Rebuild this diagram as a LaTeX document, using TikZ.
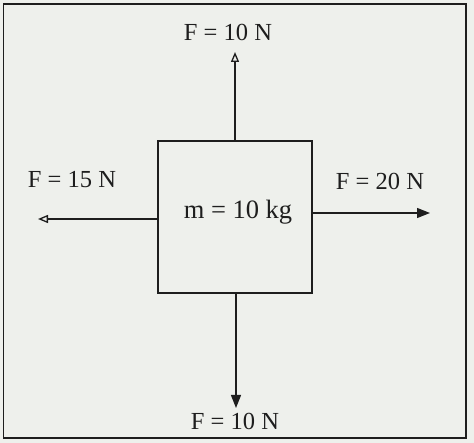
\documentclass[tikz,border=0pt]{standalone}
\usepackage{fontspec}
\setmainfont{Liberation Serif}
\usetikzlibrary{arrows.meta}
\definecolor{paper}{HTML}{EEF0EC}
\definecolor{ink}{HTML}{1E1E1E}
\tikzset{
  lbl/.style={inner sep=0pt, text=ink, font=\fontsize{24.5}{28}\selectfont},
  force/.style={draw=ink, line width=1.3pt},
  opentip/.style={-{Triangle[open, length=10pt, width=8pt, line width=1.3pt]}},
  filltip/.style={-{Triangle[length=13pt, width=10pt]}},
  massbox/.style={draw=ink, line width=1.3pt, minimum width=154pt, minimum height=152pt, inner sep=0pt, text=ink}
}
\begin{document}
\begin{tikzpicture}[x=1pt,y=-1pt]
\useasboundingbox (0,0) rectangle (474,443);
\fill[paper] (0,0) rectangle (474,443);
\draw[ink, line width=1.4pt] (3.5,4) rectangle (466,438);
\node[massbox] (box) at (235,217) {};
\node[lbl, font=\fontsize{26.5}{30}\selectfont] (mass) at (238,212) {m = 10 kg};
\coordinate (tipT) at (235,52);
\coordinate (tipB) at (236,408);
\coordinate (tipL) at (38,219);
\coordinate (tipR) at (430,213);
\draw[force, opentip] (box.north -| tipT) -- (tipT);
\draw[force, filltip] (box.south -| tipB) -- (tipB);
\draw[force, opentip] (box.west |- tipL) -- (tipL);
\draw[force, filltip] (box.east |- tipR) -- (tipR);
\node[lbl] (fT) at (228,32) {F = 10 N};
\node[lbl] (fL) at (72,180) {F = 15 N};
\node[lbl] (fR) at (380,181) {F = 20 N};
\node[lbl] (fB) at (235,421) {F = 10 N};
\end{tikzpicture}
\end{document}
